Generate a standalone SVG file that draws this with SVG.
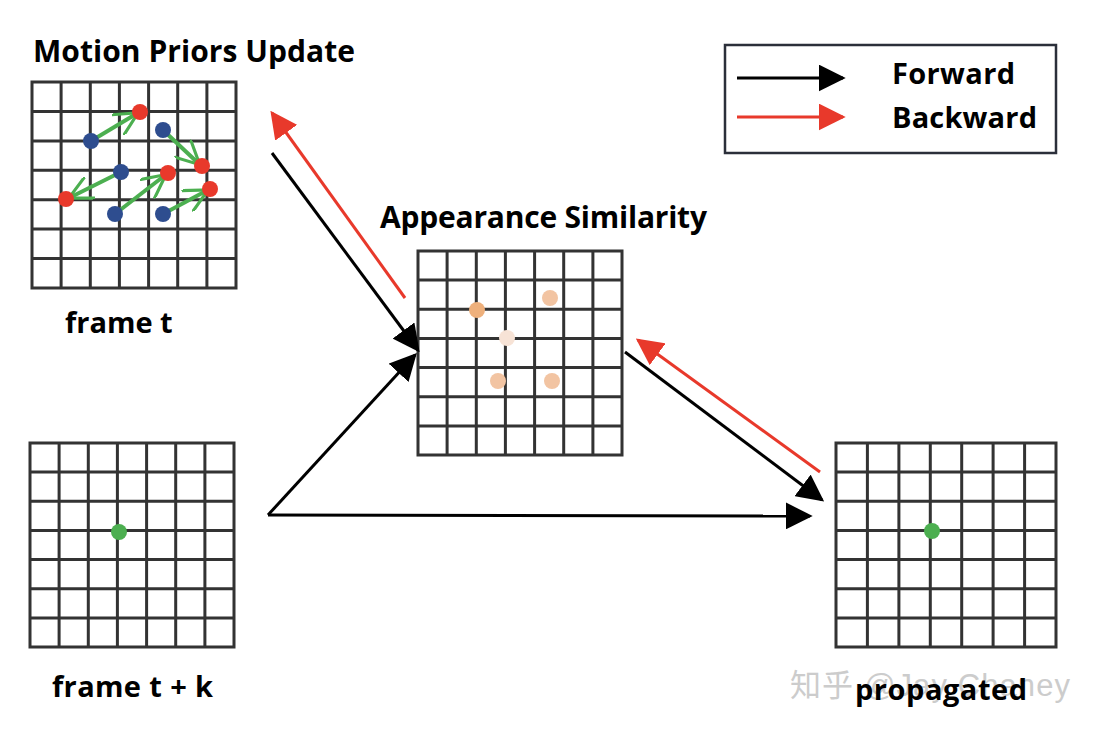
<svg xmlns="http://www.w3.org/2000/svg" width="1098" height="734" viewBox="0 0 1098 734">
<defs>
<marker id="ab" viewBox="0 0 10 10" refX="9" refY="5" markerWidth="9" markerHeight="9" markerUnits="strokeWidth" orient="auto"><path d="M0 0L10 5L0 10z" fill="#000"/></marker>
<marker id="ar" viewBox="0 0 10 10" refX="9" refY="5" markerWidth="9" markerHeight="9" markerUnits="strokeWidth" orient="auto"><path d="M0 0L10 5L0 10z" fill="#e8392b"/></marker>
<marker id="ag" viewBox="0 0 10 10" refX="9" refY="5" markerWidth="6" markerHeight="6" markerUnits="strokeWidth" orient="auto"><path d="M0 0L10 5L0 10" fill="none" stroke="#4caf50" stroke-width="1.3"/></marker>
</defs>
<style>
.t{font-family:"Open Sans","Liberation Sans",sans-serif;font-weight:bold;fill:#000}
.gl{stroke:#333;stroke-width:3;fill:none}
.k{stroke:#000;stroke-width:3;fill:none}
.r{stroke:#e8392b;stroke-width:3;fill:none}
.gr{stroke:#4caf50;stroke-width:4;fill:none}
</style>
<rect width="1098" height="734" fill="#fff"/>
<g id="frame-t">
<path class="gl" d="M32 82H236V288H32Z M61.1 82V288M90.3 82V288M119.4 82V288M148.6 82V288M177.7 82V288M206.9 82V288 M32 111.4H236M32 140.9H236M32 170.3H236M32 199.7H236M32 229.1H236M32 258.6H236"/>
<g class="gr">
<line x1="91" y1="141" x2="136" y2="114" marker-end="url(#ag)"/>
<line x1="163" y1="130" x2="198" y2="163" marker-end="url(#ag)"/>
<line x1="121" y1="172" x2="71" y2="197" marker-end="url(#ag)"/>
<line x1="115" y1="214" x2="164" y2="176" marker-end="url(#ag)"/>
<line x1="163" y1="214" x2="206" y2="191" marker-end="url(#ag)"/>
</g>
<g fill="#e8392b"><circle cx="140" cy="112" r="8"/><circle cx="202" cy="166" r="8"/><circle cx="168" cy="173" r="8"/><circle cx="66" cy="199" r="8"/><circle cx="210" cy="189" r="8"/></g>
<g fill="#2e4d8f"><circle cx="91" cy="141" r="8"/><circle cx="163" cy="130" r="8"/><circle cx="121" cy="172" r="8"/><circle cx="115" cy="214" r="8"/><circle cx="163" cy="214" r="8"/></g>
<text class="t" x="33" y="62" font-size="30" textLength="322">Motion Priors Update</text>
<text class="t" x="65" y="333" font-size="29">frame t</text>
</g>
<g id="appearance">
<path class="gl" d="M418 251H622V455H418Z M447.1 251V455M476.3 251V455M505.4 251V455M534.6 251V455M563.7 251V455M592.9 251V455 M418 280.1H622M418 309.3H622M418 338.4H622M418 367.6H622M418 396.7H622M418 425.9H622"/>
<circle cx="477" cy="310" r="8" fill="#eeb07c"/><circle cx="550" cy="298" r="8" fill="#f2c4a2"/><circle cx="507" cy="338" r="8" fill="#f7e3d6"/><circle cx="498" cy="381" r="8" fill="#f2c4a2"/><circle cx="552" cy="381" r="8" fill="#f2c4a2"/>
<text class="t" x="380" y="228" font-size="30" textLength="327">Appearance Similarity</text>
</g>
<g id="frame-tk">
<path class="gl" d="M30 443H234V647H30Z M59.1 443V647M88.3 443V647M117.4 443V647M146.6 443V647M175.7 443V647M204.9 443V647 M30 472.1H234M30 501.3H234M30 530.4H234M30 559.6H234M30 588.7H234M30 617.9H234"/>
<circle cx="119" cy="532" r="8" fill="#4caf50"/>
<text class="t" x="52" y="697" font-size="29" textLength="161">frame t + k</text>
</g>
<g id="propagated">
<path class="gl" d="M836 443H1056V647H836Z M867.4 443V647M898.9 443V647M930.3 443V647M961.7 443V647M993.1 443V647M1024.6 443V647 M836 472.1H1056M836 501.3H1056M836 530.4H1056M836 559.6H1056M836 588.7H1056M836 617.9H1056"/>
<circle cx="932" cy="531" r="8" fill="#4caf50"/>
<text x="790" y="696" font-size="31" fill="#ccc" textLength="280" font-family="'Liberation Sans','Noto Sans CJK SC',sans-serif">知乎 @Jay Chaney</text>
<text class="t" x="855" y="700" font-size="29" textLength="172">propagated</text>
</g>
<g id="legend">
<rect x="725" y="45" width="331" height="108" fill="none" stroke="#2b2f3a" stroke-width="2.5"/>
<line class="k" x1="737" y1="78" x2="843" y2="78" marker-end="url(#ab)"/>
<line class="r" x1="737" y1="117" x2="843" y2="117" marker-end="url(#ar)"/>
<text class="t" x="892" y="84" font-size="29" textLength="123">Forward</text>
<text class="t" x="892" y="128" font-size="29" textLength="145">Backward</text>
</g>
<g id="connectors">
<line class="k" x1="272" y1="153" x2="418" y2="350" marker-end="url(#ab)"/>
<line class="r" x1="405" y1="298" x2="272" y2="113" marker-end="url(#ar)"/>
<line class="k" x1="268" y1="515" x2="415" y2="355" marker-end="url(#ab)"/>
<line class="k" x1="268" y1="515" x2="810" y2="516" marker-end="url(#ab)"/>
<line class="k" x1="625" y1="352" x2="822" y2="500" marker-end="url(#ab)"/>
<line class="r" x1="820" y1="472" x2="638" y2="340" marker-end="url(#ar)"/>
</g>
</svg>
